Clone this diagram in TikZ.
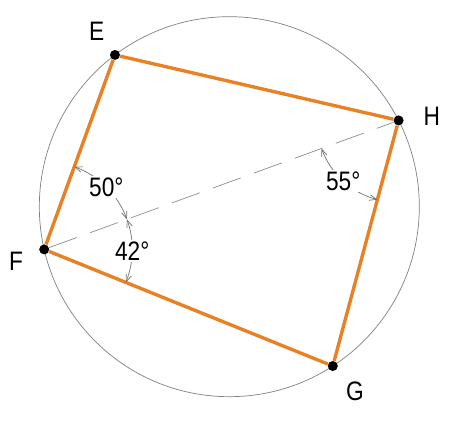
\documentclass[tikz,border=0pt]{standalone}
\usepackage{fontspec}
\setmainfont{Liberation Sans}[FakeStretch=0.85]
\usetikzlibrary{angles,quotes,arrows.meta}
\definecolor{rectorange}{RGB}{234,128,36}

\begin{document}
\begin{tikzpicture}[
    dot/.style={circle, fill=black, inner sep=0pt, minimum size=0.25cm},
    side/.style={rectorange, line width=2.4pt},
    lbl/.style={font=\fontsize{19}{22}\selectfont},
    angmark/.style={draw, black!55, line width=0.5pt, >={Straight Barb[length=5pt,width=4pt]}, <->,
        angle eccentricity=1},
    every pic quotes/.style={lbl, text=black, fill=white, inner sep=1pt}
]

    % Fix the margins
    \useasboundingbox (-5.733,-5.333) rectangle (5.517,5.167);

    % Draw the circle
    \coordinate (O) at (0,0);
    \draw[black!50, line width=0.5pt] (O) circle[radius=4.75];

    % Place the corners on the circle
    \node[dot] (E) at (127:4.75) {};
    \node[dot] (H) at (27:4.75) {};
    \node[dot] (G) at (-57:4.75) {};
    \node[dot] (F) at (193:4.75) {};

    % Draw the diagonal
    \draw[black!45, line width=0.5pt, dash pattern=on 21pt off 10pt] (F) -- (H);

    % Draw the rectangle
    \draw[side] (E) -- (H);
    \draw[side] (H) -- (G);
    \draw[side] (G) -- (F);
    \draw[side] (F) -- (E);

    % Mark the angles
    \path pic[angmark, "50°", angle radius=2.2cm] {angle=H--F--E};
    \path pic[angmark, "42°", angle radius=2.2cm] {angle=G--F--H};
    \path pic[angmark, "55°", angle radius=2.05cm] {angle=F--H--G};

    % Label the corners
    \node[lbl] (labE) at (-3.315, 4.393) {E};
    \node[lbl] (labH) at (5.06, 2.268) {H};
    \node[lbl] (labG) at (3.143, -4.625) {G};
    \node[lbl] (labF) at (-5.333, -1.358) {F};

\end{tikzpicture}
\end{document}
